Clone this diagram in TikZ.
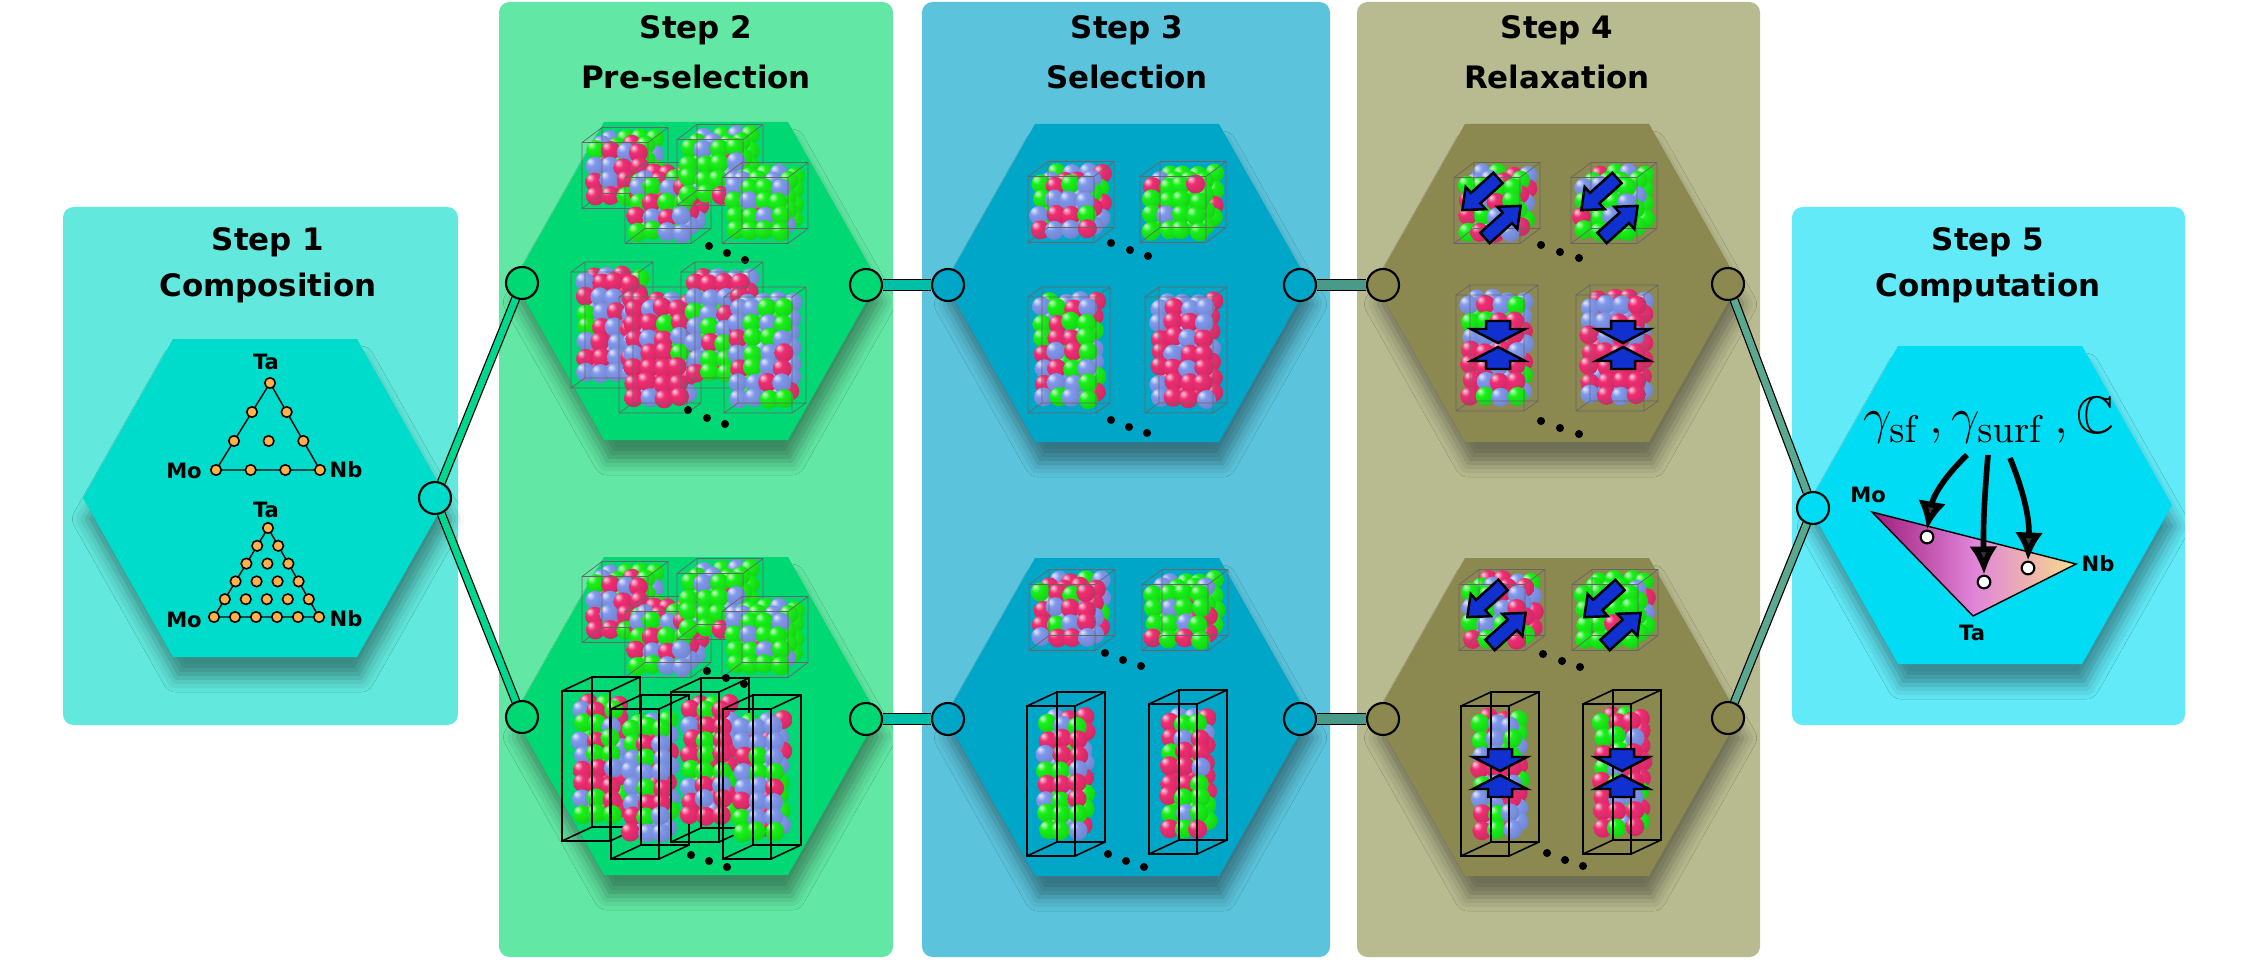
\documentclass[tikz,border=0pt]{standalone}
\usepackage[no-math]{fontspec}
\usepackage{amssymb}
\setmainfont{DejaVu Sans}
\usetikzlibrary{shadows.blur,arrows.meta}
\definecolor{pA}{HTML}{62E8DC}\definecolor{hA}{HTML}{00DCCB}
\definecolor{pB}{HTML}{62E8A4}\definecolor{hB}{HTML}{00D873}
\definecolor{pC}{HTML}{5BC4DC}\definecolor{hC}{HTML}{00A6C8}
\definecolor{pD}{HTML}{B8BA8F}\definecolor{hD}{HTML}{8B8850}
\definecolor{pE}{HTML}{62EAF8}\definecolor{hE}{HTML}{00DCF4}
\definecolor{atR}{HTML}{EE2E72}\definecolor{atG}{HTML}{18F018}\definecolor{atB}{HTML}{8098EC}
\definecolor{arB}{HTML}{1030D0}\definecolor{dotO}{HTML}{FFB24A}
\definecolor{lAB}{HTML}{00D890}\definecolor{lBC}{HTML}{00BFA8}
\definecolor{lCD}{HTML}{4A9A8A}\definecolor{lDE}{HTML}{5AA890}
\definecolor{tL}{HTML}{9E1C7C}\definecolor{tM}{HTML}{E084D8}\definecolor{tR}{HTML}{F7DC8C}
\pgfdeclareradialshading{ballR}{\pgfpoint{-14bp}{14bp}}{color(0bp)=(atR!20!white); color(12bp)=(atR); color(38bp)=(atR!85!black); color(62bp)=(atR!55!black); color(80bp)=(atR!55!black)}
\pgfdeclareradialshading{ballG}{\pgfpoint{-14bp}{14bp}}{color(0bp)=(atG!20!white); color(12bp)=(atG); color(38bp)=(atG!85!black); color(62bp)=(atG!55!black); color(80bp)=(atG!55!black)}
\pgfdeclareradialshading{ballB}{\pgfpoint{-14bp}{14bp}}{color(0bp)=(atB!20!white); color(12bp)=(atB); color(38bp)=(atB!85!black); color(62bp)=(atB!55!black); color(80bp)=(atB!55!black)}
\tikzset{
  panel/.style={fill=#1,rounded corners=3pt},
  title/.style={font=\fontsize{8.8pt}{10pt}\selectfont\bfseries,inner sep=0pt},
  lab/.style={font=\fontsize{6pt}{7pt}\selectfont\bfseries,inner sep=0pt},
  conn/.style={circle,draw,line width=0.6pt,minimum size=9.1pt,inner sep=0pt,fill=#1},
  barO/.style={line width=2.6pt,black},
  thinbox/.style={draw=black!60,line width=0.2pt},
  thickbox/.style={draw=black,line width=0.45pt},
  blockarr/.style={fill=arB,draw=black,line width=0.7pt,line join=miter},
}
\newcommand\hexa[3]{%
  \fill[#3,blur shadow={shadow xshift=1pt,shadow yshift=-6pt,shadow blur radius=4pt,shadow opacity=40}]
   (#1-182,#2) -- (#1-92,#2-159) -- (#1+92,#2-159) -- (#1+182,#2) -- (#1+92,#2+159) -- (#1-92,#2+159) -- cycle;}
\newcommand\atoms[8]{%
 \pgfmathsetseed{#6}%
 \foreach \k in {#5,...,1}{\foreach \j in {1,...,#4}{\foreach \i in {1,...,#3}{%
   \pgfmathsetmacro\xx{#1+(\i-(#3+1)/2)*15+(\k-(#5+1)/2)*8+rand*2}%
   \pgfmathsetmacro\yy{#2+(\j-(#4+1)/2)*15-(\k-(#5+1)/2)*6+rand*2}%
   \pgfmathsetmacro\cc{rnd}%
   \pgfmathtruncatemacro\ci{\cc<#7 ? 0 : (\cc<#7+#8 ? 1 : 2)}%
   \ifcase\ci \def\bsh{ballR}\or\def\bsh{ballG}\or\def\bsh{ballB}\fi
   \shade[shading=\bsh] (\xx,\yy) circle (2.7pt);
 }}}}
\newcommand\wbox[7]{%
 \pgfmathsetmacro\xa{#1-#3/2-#5/2}\pgfmathsetmacro\xb{#1+#3/2-#5/2}%
 \pgfmathsetmacro\ya{#2-#4/2+#6/2}\pgfmathsetmacro\yb{#2+#4/2+#6/2}%
 \draw[#7] (\xa,\ya) rectangle (\xb,\yb) (\xa+#5,\ya-#6) rectangle (\xb+#5,\yb-#6)
   (\xa,\ya) -- ++(#5,-#6) (\xb,\ya) -- ++(#5,-#6) (\xa,\yb) -- ++(#5,-#6) (\xb,\yb) -- ++(#5,-#6);}
\newcommand\acube[6]{\atoms{#1}{#2}{4}{4}{3}{#3}{#4}{#5}\wbox{#1}{#2}{66}{66}{20}{15}{#6}}
\newcommand\acol[6]{\atoms{#1}{#2}{4}{7}{2}{#3}{#4}{#5}\wbox{#1}{#2}{68}{116}{14}{10}{#6}}
\newcommand\atall[5]{\atoms{#1}{#2}{3}{8}{2}{#3}{#4}{#5}\wbox{#1}{#2}{48}{150}{30}{14}{thickbox}}
\newcommand\tdots[6]{\fill (#1,#2) circle (1.15pt) (#3,#4) circle (1.15pt) (#5,#6) circle (1.15pt);}
\newcommand\barrow[7]{\begin{scope}[shift={(#1,#2)},rotate=#3]
  \draw[blockarr] (0,-#5/2) -- (#4-#7,-#5/2) -- (#4-#7,-#6/2) -- (#4,0) -- (#4-#7,#6/2) -- (#4-#7,#5/2) -- (0,#5/2) -- cycle;
  \end{scope}}
\newcommand\ttri[7]{%
  \draw[line width=0.4pt] (#1,#2) -- (#3,#4) -- (#5,#6) -- cycle;
  \foreach \a in {0,...,#7}{\pgfmathtruncatemacro\m{#7-\a}\foreach \b in {0,...,\m}{%
    \pgfmathsetmacro\px{#1+\a/#7*(#3-#1)+\b/#7*(#5-#1)}%
    \pgfmathsetmacro\py{#2+\a/#7*(#4-#2)+\b/#7*(#6-#2)}%
    \draw[fill=dotO,line width=0.45pt] (\px,\py) circle (1.5pt);}}}
\begin{document}
\begin{tikzpicture}[x=0.01cm,y=-0.01cm]
\useasboundingbox (0,0) rectangle (2249,979);
\fill[panel=pA] (63,207) rectangle (458,725);
\fill[panel=pB] (499,2) rectangle (893,957);
\fill[panel=pC] (922,2) rectangle (1330,957);
\fill[panel=pD] (1357,2) rectangle (1760,957);
\fill[panel=pE] (1792,207) rectangle (2185,725);
\node[title] (t1a) at (268,242) {Step 1};
\node[title] (t1b) at (268,288) {Composition};
\node[title] (t2a) at (696,30) {Step 2};
\node[title] (t2b) at (696,77) {Pre-selection};
\node[title] (t3a) at (1127,30) {Step 3};
\node[title] (t3b) at (1127,77) {Selection};
\node[title] (t4a) at (1557,30) {Step 4};
\node[title] (t4b) at (1557,77) {Relaxation};
\node[title] (t5a) at (1988,242) {Step 5};
\node[title] (t5b) at (1988,288) {Computation};
\hexa{265}{498}{hA}
\hexa{696}{281}{hB}\hexa{696}{716}{hB}
\hexa{1127}{283}{hC}\hexa{1127}{717}{hC}
\hexa{1557}{283}{hD}\hexa{1557}{717}{hD}
\hexa{1990}{505}{hE}
\ttri{216}{470}{270}{383}{320}{470}{3}
\node[lab] (ta1) at (266,362) {Ta};
\node[lab] (mo1) at (184,471) {Mo};
\node[lab] (nb1) at (346,470) {Nb};
\ttri{214}{617}{268}{528}{319}{617}{5}
\node[lab] (ta2) at (266,510) {Ta};
\node[lab] (mo2) at (184,620) {Mo};
\node[lab] (nb2) at (346,619) {Nb};
\acube{625}{168}{1}{.33}{.33}{thinbox}\acube{668}{203}{2}{.35}{.3}{thinbox}
\acube{720}{165}{3}{.1}{.75}{thinbox}\acube{765}{203}{4}{.05}{.6}{thinbox}
\tdots{709}{246}{727}{253}{745}{260}
\acol{612}{325}{5}{.45}{.15}{thinbox}\acol{660}{350}{6}{.7}{.05}{thinbox}
\acol{722}{325}{7}{.25}{.25}{thinbox}\acol{765}{350}{8}{.1}{.25}{thinbox}
\tdots{688}{410}{707}{418}{725}{424}
\acube{625}{602}{1}{.33}{.33}{thinbox}\acube{668}{637}{2}{.35}{.3}{thinbox}
\acube{720}{599}{3}{.1}{.75}{thinbox}\acube{765}{637}{4}{.05}{.6}{thinbox}
\tdots{707}{671}{726}{678}{744}{684}
\atall{601}{759}{9}{.35}{.3}\atall{650}{777}{10}{.4}{.3}
\atall{710}{760}{11}{.45}{.3}\atall{762}{777}{12}{.35}{.25}
\tdots{691}{855}{709}{861}{727}{867}
\acube{1071}{202}{13}{.3}{.3}{thinbox}\acube{1183}{202}{14}{.12}{.75}{thinbox}
\tdots{1111}{243}{1130}{250}{1148}{256}
\acol{1069}{350}{15}{.4}{.3}{thinbox}\acol{1186}{350}{16}{.65}{0}{thinbox}
\tdots{1111}{420}{1129}{427}{1147}{433}
\acube{1072}{610}{17}{.3}{.3}{thinbox}\acube{1185}{610}{18}{.12}{.75}{thinbox}
\tdots{1105}{653}{1123}{660}{1141}{666}
\atall{1066}{774}{19}{.35}{.3}\atall{1188}{772}{20}{.5}{.4}
\tdots{1108}{854}{1126}{861}{1144}{867}
\acube{1497}{203}{21}{.3}{.3}{thinbox}\acube{1614}{203}{22}{.12}{.75}{thinbox}
\tdots{1541}{245}{1560}{252}{1579}{258}
\acol{1497}{348}{23}{.4}{.3}{thinbox}\acol{1617}{348}{24}{.65}{0}{thinbox}
\tdots{1541}{421}{1560}{428}{1579}{434}
\barrow{1498}{178}{222}{48}{14}{30}{18}\barrow{1485}{238}{42}{48}{14}{30}{18}
\barrow{1617}{178}{222}{48}{14}{30}{18}\barrow{1602}{238}{42}{48}{14}{30}{18}
\barrow{1498}{321}{-90}{22}{24}{54}{14}\barrow{1498}{369}{90}{22}{24}{54}{14}
\barrow{1623}{321}{-90}{22}{24}{54}{14}\barrow{1623}{369}{90}{22}{24}{54}{14}
\acube{1502}{610}{25}{.3}{.3}{thinbox}\acube{1615}{610}{26}{.12}{.75}{thinbox}
\tdots{1543}{654}{1562}{661}{1580}{667}
\atall{1500}{774}{27}{.35}{.3}\atall{1622}{772}{28}{.5}{.4}
\tdots{1547}{853}{1565}{860}{1583}{866}
\barrow{1503}{585}{222}{48}{14}{30}{18}\barrow{1490}{645}{42}{48}{14}{30}{18}
\barrow{1620}{585}{222}{48}{14}{30}{18}\barrow{1605}{645}{42}{48}{14}{30}{18}
\barrow{1500}{749}{-90}{22}{24}{54}{14}\barrow{1500}{797}{90}{22}{24}{54}{14}
\barrow{1622}{749}{-90}{22}{24}{54}{14}\barrow{1622}{797}{90}{22}{24}{54}{14}
\shade[left color=tL,right color=tR,middle color=tM,draw=black,line width=0.4pt]
  (1872,512) -- (2076,564) -- (1973,616) -- cycle;
\node[lab] (mo5) at (1868,495) {Mo};
\node[lab] (nb5) at (2098,564) {Nb};
\node[lab] (ta5) at (1972,633) {Ta};
\node[inner sep=0pt,font=\fontsize{15pt}{16pt}\selectfont] (gam) at (1989,420) {$\gamma_{\mathrm{sf}}\,,\gamma_{\mathrm{surf}}\,,\mathbb{C}$};
\node[circle,draw,fill=white,line width=0.6pt,minimum size=3.6pt,inner sep=0pt] (p1) at (1927,537) {};
\node[circle,draw,fill=white,line width=0.6pt,minimum size=3.6pt,inner sep=0pt] (p2) at (1984,582) {};
\node[circle,draw,fill=white,line width=0.6pt,minimum size=3.6pt,inner sep=0pt] (p3) at (2028,568) {};
\coordinate (s1) at (1967,455);\coordinate (s2) at (1988,455);\coordinate (s3) at (2010,458);
\draw[line width=1.6pt,-{Latex[length=8pt,width=8pt]}] (s1) to[bend right=18] (p1.north);
\draw[line width=1.6pt,-{Latex[length=8pt,width=8pt]}] (s2) to[bend right=3] (p2.north);
\draw[line width=1.6pt,-{Latex[length=8pt,width=8pt]}] (s3) to[bend left=12] (p3.north);
\node[conn=hA] (c1) at (435,498) {};
\node[conn=hB] (c2a) at (522,283) {};
\node[conn=hB] (c2b) at (522,717) {};
\node[conn=hB] (c2c) at (866,285) {};
\node[conn=hB] (c2d) at (866,719) {};
\node[conn=hC] (c3a) at (948,285) {};
\node[conn=hC] (c3b) at (948,719) {};
\node[conn=hC] (c3c) at (1300,285) {};
\node[conn=hC] (c3d) at (1300,719) {};
\node[conn=hD] (c4a) at (1383,285) {};
\node[conn=hD] (c4b) at (1383,719) {};
\node[conn=hD] (c4c) at (1728,284) {};
\node[conn=hD] (c4d) at (1728,718) {};
\node[conn=hE] (c5) at (1813,508) {};
\foreach \a/\b/\c in {c1/c2a/lAB,c1/c2b/lAB,c4c/c5/lDE,c4d/c5/lDE}{
  \draw[barO] (\a) -- (\b); \draw[line width=1.9pt,\c] (\a) -- (\b);}
\foreach \a/\b/\c in {c2c/c3a/lBC,c2d/c3b/lBC,c3c/c4a/lCD,c3d/c4b/lCD}{
  \draw[line width=3.4pt,black] (\a) -- (\b); \draw[line width=2.7pt,\c] (\a) -- (\b);}
\end{tikzpicture}
\end{document}
